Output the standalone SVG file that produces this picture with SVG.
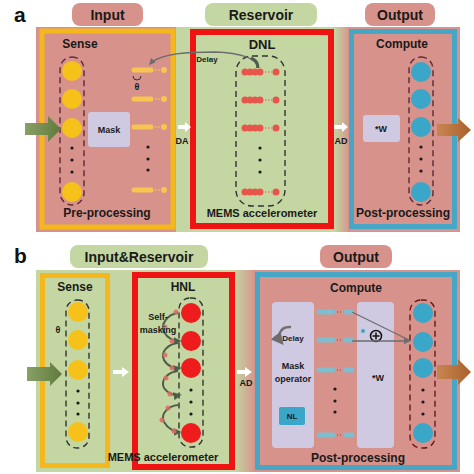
<svg xmlns="http://www.w3.org/2000/svg" width="474" height="474" viewBox="0 0 474 474">
<defs>
<style>
.t{font-family:"Liberation Sans",Arial,sans-serif;font-weight:bold;fill:#1a1a1a;text-anchor:middle}
.pk{fill:#d6928b}
.gr{fill:#c4d7a2}
.lav{fill:#d0c9e2}
.cap{fill:none;stroke-width:1.4;stroke-dasharray:6 4}
.yc{fill:#f6c21a}
.bc{fill:#3aa6c8}
.rc{fill:#ee1c1c}
.dot{fill:#1a1a1a}
</style>
<linearGradient id="gpA" x1="0" x2="1"><stop offset="0" stop-color="#c4d7a2"/><stop offset="1" stop-color="#d6928b"/></linearGradient>
<linearGradient id="garr" x1="0" x2="1"><stop offset="0" stop-color="#8aa066"/><stop offset="1" stop-color="#5f7a3c"/></linearGradient>
<linearGradient id="barr" x1="0" x2="1"><stop offset="0" stop-color="#c98550"/><stop offset="1" stop-color="#a9622c"/></linearGradient>
<marker id="mg" viewBox="0 0 10 10" refX="8" refY="5" markerWidth="5" markerHeight="5" orient="auto"><path d="M0,0 L10,5 L0,10 z" fill="#6d6d6d"/></marker>
<marker id="md" viewBox="0 0 10 10" refX="8" refY="5" markerWidth="4" markerHeight="4" orient="auto"><path d="M0,0 L10,5 L0,10 z" fill="#4e5e4a"/></marker>
<g id="ychain"><line x1="0" y1="0" x2="17" y2="0" stroke="#f7c550" stroke-width="5" stroke-linecap="round"/><line x1="21" y1="0" x2="26" y2="0" stroke="#f7c550" stroke-width="1.5" stroke-dasharray="1.5 1.5"/><circle cx="30" cy="0" r="3" fill="#f7c550"/></g>
<g id="rchain" fill="#e8554a"><circle cx="0" cy="0" r="3.5"/><circle cx="5" cy="0" r="3.5"/><circle cx="10" cy="0" r="3.5"/><circle cx="15" cy="0" r="3.5"/><line x1="20" y1="0" x2="27" y2="0" stroke="#e8554a" stroke-width="1.2" stroke-dasharray="1.5 1.5"/><circle cx="31" cy="0" r="3.5"/></g>
<g id="bchain"><line x1="0" y1="0" x2="14" y2="0" stroke="#7fbdd0" stroke-width="5" stroke-linecap="round"/><line x1="18" y1="0" x2="23" y2="0" stroke="#555" stroke-width="1.2" stroke-dasharray="1 2"/><line x1="27" y1="0" x2="33" y2="0" stroke="#7fbdd0" stroke-width="5" stroke-linecap="round"/></g>
</defs>
<rect width="474" height="474" fill="#ffffff"/>

<!-- ===== Panel a ===== -->
<text x="14" y="22" font-family="Liberation Sans,Arial,sans-serif" font-weight="bold" font-size="21" fill="#111">a</text>
<g id="pillInput"><rect x="72" y="3" width="71" height="23" rx="8" class="pk"/><text x="107.5" y="20" class="t" font-size="14">Input</text></g>
<g id="pillReservoir"><rect x="205" y="3" width="112" height="23" rx="8" class="gr"/><text x="261" y="20" class="t" font-size="14">Reservoir</text></g>
<g id="pillOutputA"><rect x="365" y="3" width="70" height="23" rx="8" class="pk"/><text x="400" y="20" class="t" font-size="14">Output</text></g>

<g id="bgA">
<rect x="36" y="27" width="142" height="205" class="pk"/>
<rect x="176" y="27" width="162" height="205" class="gr"/>
<rect x="334" y="27" width="16" height="205" fill="url(#gpA)"/>
<rect x="348" y="27" width="112" height="205" class="pk"/>
</g>

<g id="senseA">
<rect x="42" y="31" width="131" height="196" fill="#d6928b" stroke="#f5b81c" stroke-width="5"/>
<text x="80" y="48" class="t" font-size="12">Sense</text>
<rect x="60" y="57" width="24" height="148" rx="12" class="cap" stroke="#5a2a36"/>
<circle cx="72" cy="71" r="10" class="yc"/>
<circle cx="72" cy="99" r="10" class="yc"/>
<circle cx="72" cy="128" r="10" class="yc"/>
<circle cx="72" cy="148" r="1.6" class="dot"/><circle cx="72" cy="160" r="1.6" class="dot"/><circle cx="72" cy="172" r="1.6" class="dot"/>
<circle cx="72" cy="192" r="10" class="yc"/>
<rect x="88" y="112" width="42" height="35" rx="3" class="lav"/>
<text x="109" y="133" class="t" font-size="9">Mask</text>
<use href="#ychain" x="134" y="70"/>
<use href="#ychain" x="134" y="99"/>
<use href="#ychain" x="134" y="127"/>
<use href="#ychain" x="134" y="190"/>
<circle cx="148" cy="147" r="1.6" class="dot"/><circle cx="148" cy="159" r="1.6" class="dot"/><circle cx="148" cy="170" r="1.6" class="dot"/>
<path d="M133,76 Q133,80 137,80 Q141,80 141,76" fill="none" stroke="#333" stroke-width="1"/>
<text x="137" y="90" class="t" font-size="9" font-weight="normal">θ</text>
<text x="107" y="217" class="t" font-size="12">Pre-processing</text>
</g>

<g id="dnl">
<rect x="193" y="32" width="138" height="194" class="gr" stroke="#ee1414" stroke-width="6"/>
<text x="262" y="49" class="t" font-size="13">DNL</text>
<text x="207" y="62" class="t" font-size="8">Delay</text>
<rect x="236" y="56" width="49" height="150" rx="16" class="cap" stroke="#333"/>
<use href="#rchain" x="245" y="72"/>
<use href="#rchain" x="245" y="100"/>
<use href="#rchain" x="245" y="128"/>
<use href="#rchain" x="245" y="192"/>
<circle cx="260" cy="148" r="1.6" class="dot"/><circle cx="260" cy="160" r="1.6" class="dot"/><circle cx="260" cy="172" r="1.6" class="dot"/>
<text x="262" y="217" class="t" font-size="11">MEMS accelerometer</text>
</g>

<g id="computeA">
<rect x="351.5" y="31.5" width="103" height="195" fill="#d6928b" stroke="#46a6c6" stroke-width="5"/>
<text x="402" y="48" class="t" font-size="12">Compute</text>
<rect x="409" y="57" width="24" height="148" rx="12" class="cap" stroke="#5a2a36"/>
<circle cx="421" cy="72" r="10" class="bc"/>
<circle cx="421" cy="99" r="10" class="bc"/>
<circle cx="421" cy="127" r="10" class="bc"/>
<circle cx="421" cy="147" r="1.6" class="dot"/><circle cx="421" cy="159" r="1.6" class="dot"/><circle cx="421" cy="171" r="1.6" class="dot"/>
<circle cx="421" cy="192" r="10" class="bc"/>
<rect x="363" y="115" width="37" height="27" rx="3" class="lav"/>
<text x="381" y="132" class="t" font-size="9">*W</text>
<text x="403" y="217" class="t" font-size="12">Post-processing</text>
</g>

<g id="connA">
<polygon points="25,123 48,123 48,116 61,129 48,142 48,135 25,135" fill="url(#garr)"/>
<polygon points="437,124 458,124 458,118 471,130 458,142 458,136 437,136" fill="url(#barr)"/>
<polygon points="178,125 185,125 185,122 191,127 185,132 185,129 178,129" fill="#ffffff"/>
<text x="182" y="144" class="t" font-size="9">DA</text>
<polygon points="334,125 342,125 342,122 348,127 342,132 342,129 334,129" fill="#ffffff"/>
<text x="341" y="144" class="t" font-size="9">AD</text>
<path d="M257,68 C258,58 240,53 215,52 C190,52 160,53 150,64" fill="none" stroke="#6d6d6d" stroke-width="1.3" marker-end="url(#mg)"/>
<path d="M251,58 C256,60 258,64 258,68" fill="none" stroke="#4e5e4a" stroke-width="3"/>
</g>

<!-- ===== Panel b ===== -->
<text x="14" y="263" font-family="Liberation Sans,Arial,sans-serif" font-weight="bold" font-size="21" fill="#111">b</text>
<g id="pillInRes"><rect x="70" y="245" width="138" height="23" rx="8" class="gr"/><text x="139" y="262" class="t" font-size="14">Input&amp;Reservoir</text></g>
<g id="pillOutputB"><rect x="320" y="245" width="72" height="23" rx="8" class="pk"/><text x="356" y="262" class="t" font-size="14">Output</text></g>

<g id="bgB">
<rect x="36" y="270" width="204" height="202" class="gr"/>
<rect x="234" y="270" width="22" height="202" fill="url(#gpA)"/>
<rect x="254" y="270" width="206" height="202" class="pk"/>
</g>

<g id="senseB">
<rect x="42.5" y="275.5" width="65" height="190" fill="none" stroke="#f5b81c" stroke-width="5"/>
<text x="75" y="291" class="t" font-size="12">Sense</text>
<rect x="66" y="300" width="23" height="148" rx="11" class="cap" stroke="#333"/>
<circle cx="78" cy="312" r="10" class="yc"/>
<circle cx="78" cy="340" r="10" class="yc"/>
<circle cx="78" cy="370" r="10" class="yc"/>
<circle cx="78" cy="391" r="1.6" class="dot"/><circle cx="78" cy="403" r="1.6" class="dot"/><circle cx="78" cy="414" r="1.6" class="dot"/>
<circle cx="78" cy="432" r="10" class="yc"/>
<text x="58" y="333" class="t" font-size="9" font-weight="normal">θ</text>
</g>

<g id="hnl">
<rect x="135" y="275" width="97" height="192" fill="none" stroke="#ee1414" stroke-width="6"/>
<text x="183" y="291" class="t" font-size="12">HNL</text>
<rect x="179" y="298" width="24" height="149" rx="11" class="cap" stroke="#333"/>
<circle cx="191" cy="313" r="10" class="rc"/>
<circle cx="191" cy="341" r="10" class="rc"/>
<circle cx="191" cy="368" r="10" class="rc"/>
<circle cx="191" cy="390" r="1.6" class="dot"/><circle cx="191" cy="402" r="1.6" class="dot"/><circle cx="191" cy="414" r="1.6" class="dot"/>
<circle cx="191" cy="433" r="10" class="rc"/>
<g fill="none" stroke="#4e5e4a" stroke-width="2" marker-end="url(#md)">
<path d="M178,313 C168,314 160,324 164,332 C168,339 175,341 180,341"/>
<path d="M178,343 C168,344 160,352 164,360 C168,367 175,369 180,368"/>
<path d="M178,371 C168,372 160,380 164,388 C168,394 175,396 180,395"/>
<path d="M178,405 C168,406 160,414 164,422 C168,429 175,432 180,432"/>
</g>
<g fill="#e06a62" opacity="0.85">
<circle cx="176" cy="312" r="2.5"/><circle cx="165" cy="327" r="2.5"/><circle cx="172" cy="341" r="2.5"/>
<circle cx="165" cy="355" r="2.5"/><circle cx="172" cy="368" r="2.5"/>
<circle cx="166" cy="378" r="2.5"/><circle cx="170" cy="394" r="2.5"/>
<circle cx="168" cy="408" r="2.5"/><circle cx="162" cy="420" r="2.5"/><circle cx="174" cy="431" r="2.5"/>
</g>
<text x="158" y="320" class="t" font-size="9">Self-</text>
<text x="158" y="333" class="t" font-size="9">masking</text>
<text x="163" y="461" class="t" font-size="11">MEMS accelerometer</text>
</g>

<g id="computeB">
<rect x="257.5" y="274.5" width="197" height="193" fill="none" stroke="#46a6c6" stroke-width="5"/>
<text x="356" y="292" class="t" font-size="12">Compute</text>
<rect x="272" y="302" width="42" height="146" rx="4" class="lav"/>
<path d="M291,327 C279,326 277,337 282,343" fill="none" stroke="#707070" stroke-width="2.5" marker-end="url(#mg)"/>
<text x="293" y="341" class="t" font-size="8">Delay</text>
<text x="293" y="369" class="t" font-size="9">Mask</text>
<text x="293" y="382" class="t" font-size="9">operator</text>
<rect x="279" y="407" width="26" height="18" rx="2" fill="#3aa6c8"/>
<text x="292" y="419" class="t" font-size="8">NL</text>
<use href="#bchain" x="319" y="312"/>
<use href="#bchain" x="319" y="340"/>
<use href="#bchain" x="319" y="370"/>
<circle cx="335" cy="389" r="1.6" class="dot"/><circle cx="335" cy="401" r="1.6" class="dot"/><circle cx="335" cy="412" r="1.6" class="dot"/>
<use href="#bchain" x="319" y="435"/>
<rect x="357" y="302" width="37" height="146" rx="4" class="lav"/>
<circle cx="376" cy="336" r="5.5" fill="none" stroke="#111" stroke-width="1.5"/>
<path d="M372.5,336 H379.5 M376,332.5 V339.5" stroke="#111" stroke-width="1.5"/>
<circle cx="363" cy="331" r="2" fill="#3aa6c8"/>
<text x="378" y="381" class="t" font-size="9">*W</text>
<rect x="410" y="300" width="25" height="148" rx="11" class="cap" stroke="#6a1a1a"/>
<circle cx="423" cy="313" r="10" class="bc"/>
<circle cx="423" cy="342" r="10" class="bc"/>
<circle cx="423" cy="368" r="10" class="bc"/>
<circle cx="423" cy="390" r="1.6" class="dot"/><circle cx="423" cy="402" r="1.6" class="dot"/><circle cx="423" cy="414" r="1.6" class="dot"/>
<circle cx="423" cy="433" r="10" class="bc"/>
<text x="358" y="462" class="t" font-size="12">Post-processing</text>
</g>

<g id="connB">
<polygon points="27,367 50,367 50,362 62,374 50,386 50,381 27,381" fill="url(#garr)"/>
<polygon points="437,365 458,365 458,359 471,372 458,385 458,379 437,379" fill="url(#barr)"/>
<polygon points="113,370 122,370 122,367 129,372 122,377 122,374 113,374" fill="#ffffff"/>
<polygon points="237,370 245,370 245,367 252,372 245,377 245,374 237,374" fill="#ffffff"/>
<text x="246" y="386" class="t" font-size="9">AD</text>
<line x1="352" y1="312" x2="411" y2="341" stroke="#6d6d6d" stroke-width="1.3"/>
<line x1="352" y1="341" x2="409" y2="341" stroke="#6d6d6d" stroke-width="1.3" marker-end="url(#mg)"/>
</g>
</svg>
